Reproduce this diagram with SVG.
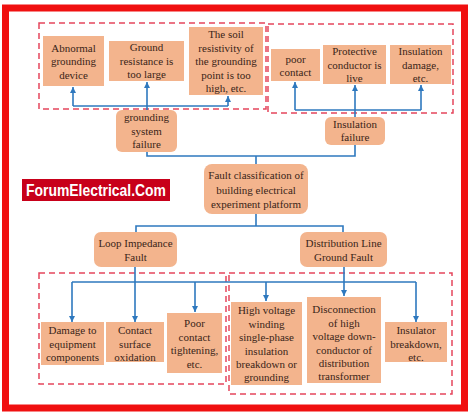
<svg xmlns="http://www.w3.org/2000/svg" width="474" height="418" viewBox="0 0 474 418">
<style>
.n rect{fill:#F3B48D;}
.n text{font-family:"Liberation Serif","Times New Roman",serif;font-size:11px;fill:#3a2418;text-anchor:middle;}
.dash{fill:none;stroke:#E5455C;stroke-width:1.5;stroke-dasharray:6 4;}
.c path{fill:none;stroke:#2E78BE;stroke-width:1.6;}
</style>
<defs>
<marker id="ah" viewBox="0 0 10 10" refX="10" refY="5" markerWidth="4" markerHeight="4" orient="auto" markerUnits="strokeWidth">
<path d="M0,0 L10,5 L0,10 z" fill="#2E78BE"/>
</marker>
</defs>
<rect x="0" y="0" width="474" height="418" fill="#ffffff"/>
<rect x="5.5" y="8" width="459" height="400" fill="none" stroke="#F01010" stroke-width="7"/>
<g id="groups">
<rect class="dash" x="39" y="23" width="227" height="86"/>
<rect class="dash" x="268" y="24" width="185" height="89"/>
<rect class="dash" x="39" y="273" width="187" height="111"/>
<rect class="dash" x="229" y="273" width="223" height="121"/>
</g>
<g id="watermark">
<rect x="22" y="179" width="148" height="22" fill="#C8001A"/>
<text x="96" y="196" font-family="Liberation Sans,Arial,sans-serif" font-weight="bold" font-size="17" fill="#ffffff" text-anchor="middle" textLength="140" lengthAdjust="spacingAndGlyphs">ForumElectrical.Com</text>
</g>
<g class="c" id="connectors">
<path d="M147,110 V82" marker-end="url(#ah)"/>
<path d="M73,106 H228"/>
<path d="M73,106 V87" marker-end="url(#ah)"/>
<path d="M228,106 V96" marker-end="url(#ah)"/>
<path d="M355,117 V85" marker-end="url(#ah)"/>
<path d="M295,110 H421"/>
<path d="M295,110 V82" marker-end="url(#ah)"/>
<path d="M421,110 V85" marker-end="url(#ah)"/>
<path d="M147,152 V156 H355 V145"/>
<path d="M256,156 V164"/>
<path d="M256,214 V226"/>
<path d="M136,232 V226 H343 V232"/>
<path d="M72,282 H416"/>
<path d="M135,267 V322" marker-end="url(#ah)"/>
<path d="M344,267 V296" marker-end="url(#ah)"/>
<path d="M72,282 V322" marker-end="url(#ah)"/>
<path d="M195,282 V312" marker-end="url(#ah)"/>
<path d="M266,282 V301" marker-end="url(#ah)"/>
<path d="M416,282 V322" marker-end="url(#ah)"/>
</g>
<g class="n" id="n-abnormal"><rect x="43" y="36" width="61" height="50"/>
<text x="73.5" y="51.5">Abnormal</text><text x="73.5" y="65">grounding</text><text x="73.5" y="78.5">device</text></g>
<g class="n" id="n-resistance"><rect x="109" y="41" width="75" height="40"/>
<text x="146.5" y="51">Ground</text><text x="146.5" y="64.5">resistance is</text><text x="146.5" y="78">too large</text></g>
<g class="n" id="n-soil"><rect x="189" y="27" width="74" height="68"/>
<text x="226" y="38">The soil</text><text x="226" y="51.5">resistivity of</text><text x="226" y="65">the grounding</text><text x="226" y="78.5">point is too</text><text x="226" y="92">high, etc.</text></g>
<g class="n" id="n-poor"><rect x="271" y="49" width="49" height="32"/>
<text x="295.5" y="62.5">poor</text><text x="295.5" y="76">contact</text></g>
<g class="n" id="n-protective"><rect x="323" y="45" width="63" height="39"/>
<text x="354.5" y="55">Protective</text><text x="354.5" y="68.5">conductor is</text><text x="354.5" y="82">live</text></g>
<g class="n" id="n-insdamage"><rect x="390" y="45" width="61" height="39"/>
<text x="420.5" y="55">Insulation</text><text x="420.5" y="68.5">damage,</text><text x="420.5" y="82">etc.</text></g>
<g class="n" id="n-grounding"><rect x="116" y="110" width="61" height="42" rx="6"/>
<text x="146.5" y="121">grounding</text><text x="146.5" y="134.5">system</text><text x="146.5" y="148">failure</text></g>
<g class="n" id="n-insfail"><rect x="325" y="117" width="60" height="28" rx="6"/>
<text x="355" y="128">Insulation</text><text x="355" y="141">failure</text></g>
<g class="n" id="n-fault"><rect x="204" y="164" width="104" height="50" rx="8"/>
<text x="256" y="179">Fault classification of</text><text x="256" y="193.5">building electrical</text><text x="256" y="207.5">experiment platform</text></g>
<g class="n" id="n-loop"><rect x="94" y="232" width="83" height="35" rx="7"/>
<text x="135.5" y="247">Loop Impedance</text><text x="135.5" y="261">Fault</text></g>
<g class="n" id="n-distline"><rect x="300" y="232" width="87" height="35" rx="7"/>
<text x="343.5" y="247">Distribution Line</text><text x="343.5" y="261">Ground Fault</text></g>
<g class="n" id="n-damage"><rect x="41" y="322" width="63" height="43"/>
<text x="72.5" y="334">Damage to</text><text x="72.5" y="347.5">equipment</text><text x="72.5" y="361">components</text></g>
<g class="n" id="n-contact"><rect x="106" y="322" width="58" height="40"/>
<text x="135" y="334">Contact</text><text x="135" y="347.5">surface</text><text x="135" y="361">oxidation</text></g>
<g class="n" id="n-tight"><rect x="167" y="313" width="55" height="60"/>
<text x="194.5" y="327">Poor</text><text x="194.5" y="340.5">contact</text><text x="194.5" y="354">tightening,</text><text x="194.5" y="367.5">etc.</text></g>
<g class="n" id="n-hv"><rect x="231" y="302" width="71" height="83"/>
<text x="266.5" y="314">High voltage</text><text x="266.5" y="327.5">winding</text><text x="266.5" y="341">single-phase</text><text x="266.5" y="354.5">insulation</text><text x="266.5" y="368">breakdown or</text><text x="266.5" y="381">grounding</text></g>
<g class="n" id="n-disc"><rect x="307" y="297" width="74" height="86"/>
<text x="344" y="313">Disconnection</text><text x="344" y="326.5">of high</text><text x="344" y="340">voltage down-</text><text x="344" y="353.5">conductor of</text><text x="344" y="367">distribution</text><text x="344" y="380">transformer</text></g>
<g class="n" id="n-insulator"><rect x="385" y="322" width="62" height="40"/>
<text x="416" y="334">Insulator</text><text x="416" y="347.5">breakdown,</text><text x="416" y="361">etc.</text></g>
</svg>
